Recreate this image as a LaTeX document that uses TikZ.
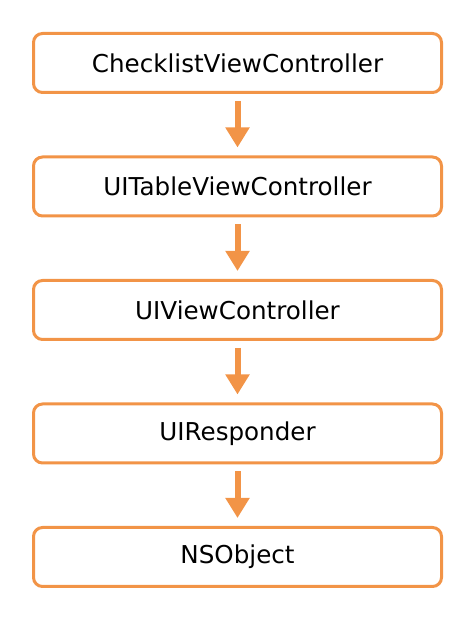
\documentclass[tikz,border=0pt]{standalone}
\usepackage{fontspec}
\setmainfont{DejaVu Sans}
\usetikzlibrary{arrows.meta}
\definecolor{org}{HTML}{F29447}
\tikzset{
  cls/.style={draw=org, line width=3pt, rounded corners=9pt, minimum width=408pt, minimum height=59pt, inner sep=0pt, font=\fontsize{24.6}{28}\selectfont, text=black},
  inh/.style={draw=org, line width=6pt, -{Triangle[width=23pt,length=20pt]}, shorten <=7pt, shorten >=8pt}
}
\begin{document}
\begin{tikzpicture}[x=1pt,y=1pt]
\useasboundingbox (0,0) rectangle (474,620);
\node[cls] (a) at (237.5,557) {ChecklistViewController};
\node[cls] (b) at (237.5,433.5) {UITableViewController};
\node[cls] (c) at (237.5,310) {UIViewController};
\node[cls] (d) at (237.5,186.5) {UIResponder};
\node[cls] (e) at (237.5,63) {NSObject};
\draw[inh] (a) -- (b);
\draw[inh] (b) -- (c);
\draw[inh] (c) -- (d);
\draw[inh] (d) -- (e);
\end{tikzpicture}
\end{document}
